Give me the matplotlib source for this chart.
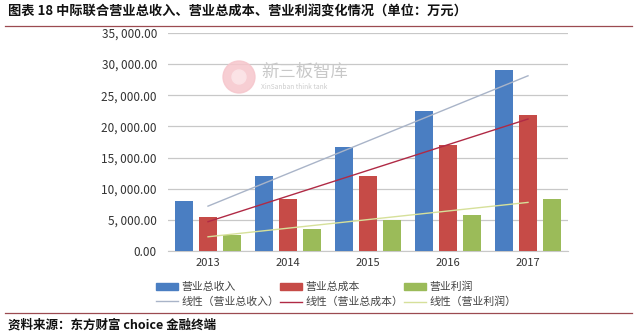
import matplotlib.pyplot as plt
import matplotlib.lines as mlines
import matplotlib.patches as mpatches
import numpy as np

plt.rcParams['font.family'] = ['Noto Sans CJK SC', 'DejaVu Sans']

years = ['2013', '2014', '2015', '2016', '2017']
revenue = [8100, 12000, 16700, 22500, 29000]
cost = [5500, 8400, 12000, 17000, 21800]
profit = [2600, 3500, 5000, 5700, 8400]

series_names = ['营业总收入', '营业总成本', '营业利润']
bar_colors = ['#4a7ec2', '#c64b47', '#9bbb59']
trend_colors = ['#a9b4c8', '#b02a45', '#d6e09a']


def thousands(v, pos):
    return '{:,.2f}'.format(v).replace(',', ', ')


fig = plt.figure(figsize=(6.4, 3.36), dpi=100)
ax = fig.add_axes([0.2625, 0.253, 0.625, 0.649])

x = np.arange(len(years))
width = 0.225
step = 0.3
all_series = [revenue, cost, profit]

bar_handles = []
line_handles = []
for i, vals in enumerate(all_series):
    ax.bar(x + (i - 1) * step, vals, width, color=bar_colors[i], zorder=3)
    bar_handles.append(mpatches.Patch(color=bar_colors[i], label=series_names[i]))
    # linear trend line, like excel's
    k, c = np.polyfit(x, vals, 1)
    ax.plot(x, k * x + c, color=trend_colors[i], lw=1.0, zorder=4)
    line_handles.append(mlines.Line2D([], [], color=trend_colors[i], lw=1.0,
                                      label='线性（' + series_names[i] + '）'))

ax.set_xlim(-0.5, 4.5)
ax.set_ylim(0, 35000)
ax.yaxis.set_major_locator(plt.MultipleLocator(5000))
ax.yaxis.set_major_formatter(plt.FuncFormatter(thousands))
ax.set_xticks(x)
ax.set_xticklabels(years, fontsize=8, color='#333333')
ax.tick_params(axis='y', labelsize=8.5, colors='#333333', length=0, pad=8)
ax.tick_params(axis='x', length=0, pad=5)
ax.grid(axis='y', color='#c8c8c8', lw=0.9, zorder=0)
for s in ['top', 'right', 'left']:
    ax.spines[s].set_visible(False)
ax.spines['bottom'].set_color('#c8c8c8')

# watermark
fig.patches.append(mpatches.Ellipse((239 / 640, 1 - 77 / 336), 32 / 640, 32 / 336,
                                    transform=fig.transFigure, color='#f6c6cc', alpha=0.85, zorder=1))
fig.patches.append(mpatches.Ellipse((239 / 640, 1 - 77 / 336), 14 / 640, 14 / 336,
                                    transform=fig.transFigure, color='#fbe3e6', zorder=1))
fig.text(261 / 640, 1 - 72 / 336, '新三板智库', fontsize=12.5, color='#c8c8c8', va='center')
fig.text(261 / 640, 1 - 87 / 336, 'XinSanban think tank', fontsize=4.8, color='#cccccc', va='center')

handles = []
for bh, lh in zip(bar_handles, line_handles):
    handles += [bh, lh]
fig.legend(handles=handles, ncol=3, loc='upper left', bbox_to_anchor=(0.229, 1 - 272 / 336),
           frameon=False, fontsize=7.8, handlelength=2.0, handleheight=0.5,
           handletextpad=0.35, columnspacing=0.05, labelspacing=0.4, labelcolor='#444444')

fig.text(8 / 640, 1 - 12 / 336, '图表 18 中际联合营业总收入、营业总成本、营业利润变化情况（单位：万元）',
         fontsize=9.5, fontweight='heavy', va='center', color='#111111')
fig.add_artist(mlines.Line2D([5 / 640, 632 / 640], [1 - 26 / 336] * 2, color='#9b4a50', lw=0.9))
fig.add_artist(mlines.Line2D([5 / 640, 632 / 640], [1 - 313 / 336] * 2, color='#9b4a50', lw=0.9))
fig.text(8 / 640, 1 - 325 / 336, '资料来源：东方财富 choice 金融终端',
         fontsize=9, fontweight='heavy', va='center', color='#111111')

fig.savefig('out.png', dpi=100)
